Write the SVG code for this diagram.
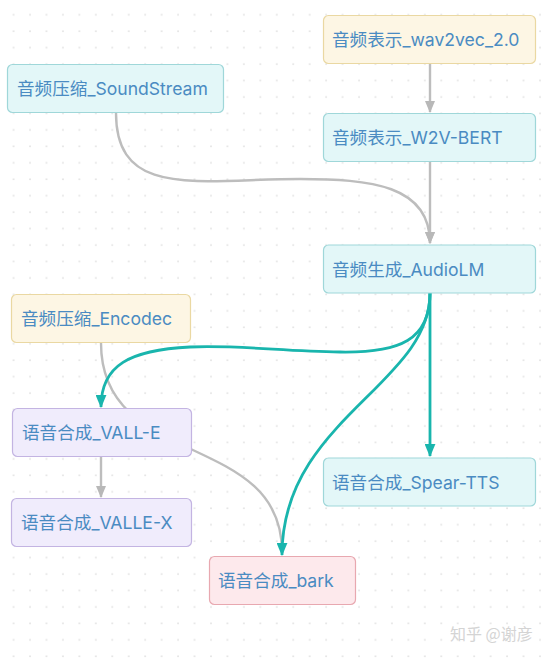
<svg xmlns="http://www.w3.org/2000/svg" width="548" height="658" viewBox="0 0 548 658">
<defs>
<pattern id="dots" x="0" y="0" width="16.45" height="16.45" patternUnits="userSpaceOnUse">
<circle cx="13.6" cy="14.8" r="1" fill="#e4e4e4"/>
</pattern>
<marker id="ag" viewBox="0 0 12 10" refX="11" refY="5" markerWidth="12" markerHeight="10" markerUnits="userSpaceOnUse" orient="auto">
<path d="M0,0 L12,5 L0,10 Z" fill="#b8b8b8"/>
</marker>
<marker id="at" viewBox="0 0 12 10" refX="11" refY="5" markerWidth="13" markerHeight="11" markerUnits="userSpaceOnUse" orient="auto">
<path d="M0,0 L12,5 L0,10 Z" fill="#19b5ad"/>
</marker>
</defs>
<style>
.n rect{stroke-width:1.2}
.cy rect{fill:#e3f7f8;stroke:#9fd7d9}
.ye rect{fill:#fdf6e4;stroke:#ead8a2}
.pu rect{fill:#f0ecfc;stroke:#c3b4e2}
.pk rect{fill:#fde9ec;stroke:#e8a8b0}
.n text{font-family:Inter,"Noto Sans CJK SC",sans-serif;font-size:17.6px;fill:#4a8bc2;dominant-baseline:central}
.g{fill:none;stroke:#bdbdbd;stroke-width:2.4}
.t{fill:none;stroke:#19b5ad;stroke-width:2.8}
.wm{font-family:"Noto Sans CJK SC",sans-serif;font-size:16px;fill:#d4d4d4}
</style>
<rect width="548" height="658" fill="#ffffff"/>
<rect width="548" height="658" fill="url(#dots)"/>
<g id="connectors">
<path class="g" d="M430,63 L430,112" marker-end="url(#ag)"/>
<path class="g" d="M430,162 L430,243" marker-end="url(#ag)"/>
<path class="g" d="M116,113 C116,200 200,179 300,179 C370,179 430,185 430,243" marker-end="url(#ag)"/>
<path class="g" d="M101,343 C101,470 282,430 282,552"/>
<path class="g" d="M101,457 L101,497" marker-end="url(#ag)"/>
<path class="t" d="M430,293 C430,340 400,353 340,352 C280,351 240,345 190,347 C130,350 101,365 101,407" marker-end="url(#at)"/>
<path class="t" d="M430,293 L430,456" marker-end="url(#at)"/>
<path class="t" d="M430,293 C430,385 282,420 282,555" marker-end="url(#at)"/>
</g>
<g id="n_wav2vec" class="n ye"><rect x="323.5" y="15.5" width="212" height="48" rx="5"/><text x="332" y="39.5">音频表示_wav2vec_2.0</text></g>
<g id="n_soundstream" class="n cy"><rect x="7.5" y="64.5" width="216" height="48" rx="5"/><text x="17" y="88.5">音频压缩_SoundStream</text></g>
<g id="n_w2vbert" class="n cy"><rect x="323.5" y="113.5" width="212" height="48" rx="5"/><text x="332" y="137.5">音频表示_W2V-BERT</text></g>
<g id="n_audiolm" class="n cy"><rect x="323.5" y="245" width="212" height="48" rx="5"/><text x="332" y="269">音频生成_AudioLM</text></g>
<g id="n_encodec" class="n ye"><rect x="11.5" y="294.5" width="179" height="48" rx="5"/><text x="21" y="318.5">音频压缩_Encodec</text></g>
<g id="n_valle" class="n pu"><rect x="12.5" y="408.5" width="179" height="48" rx="5"/><text x="22" y="432.5">语音合成_VALL-E</text></g>
<g id="n_spear" class="n cy"><rect x="323.5" y="458" width="212" height="48" rx="5"/><text x="332" y="482">语音合成_Spear-TTS</text></g>
<g id="n_vallex" class="n pu"><rect x="11.5" y="498.5" width="180" height="48" rx="5"/><text x="21" y="522.5">语音合成_VALLE-X</text></g>
<g id="n_bark" class="n pk"><rect x="209.5" y="556.5" width="146" height="48" rx="5"/><text x="218" y="580.5">语音合成_bark</text></g>
<text class="wm" x="450" y="640">知乎 @谢彦</text>
</svg>
